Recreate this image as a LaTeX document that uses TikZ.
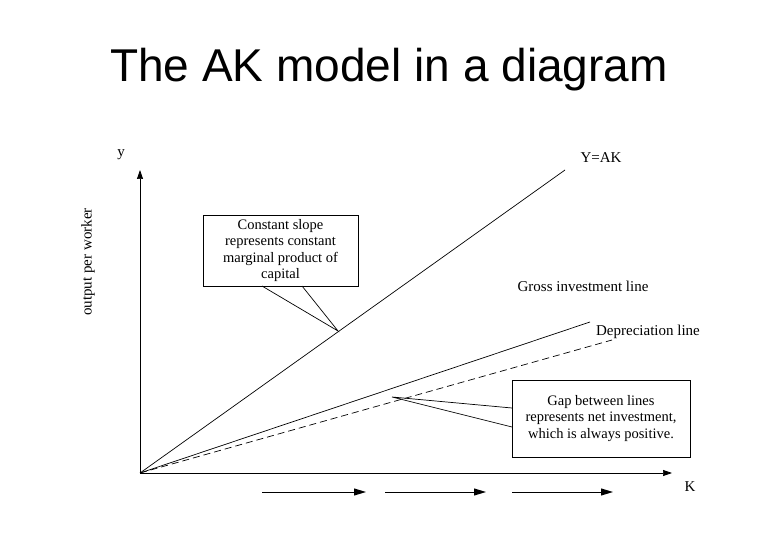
\documentclass[tikz,border=0pt]{standalone}
\usepackage{fontspec}
\setmainfont{Liberation Serif}
\newfontfamily\titlefont{Liberation Sans}
\usetikzlibrary{arrows.meta}
\begin{document}
\begin{tikzpicture}[x=1pt,y=-1pt,
  lbl/.style={font=\fontsize{15}{16}\selectfont, inner sep=0pt},
  callout/.style={draw, line width=0.6pt, align=center, font=\fontsize{14.5}{16.5}\selectfont, inner sep=2pt},
  ln/.style={line width=0.7pt},
  arr/.style={line width=1pt,-{Triangle[length=12pt,width=7pt]}}]
\useasboundingbox (0,0) rectangle (780,540);
\node[font=\titlefont\fontsize{46}{50}\selectfont] (title) at (389,70) {The AK model in a diagram};
\coordinate (O) at (140,473);
\coordinate (ytop) at (140,170);
\coordinate (xend) at (672,473);
\draw[ln,-{Triangle[length=9pt,width=6pt]}] (O) -- (ytop);
\draw[ln,-{Triangle[length=9pt,width=6pt]}] (O) -- (xend);
\node[lbl] (ylab) at (121,155) {y};
\node[lbl] (klab) at (690,487) {K};
\node[lbl,rotate=90] (opw) at (88,262) {output per worker};
\coordinate (ak) at (565,170);
\coordinate (gi) at (590,322);
\coordinate (dp) at (612,340);
\draw[ln] (O) -- (ak);
\draw[ln] (O) -- (gi);
\draw[ln,dashed,dash pattern=on 7pt off 4pt] (O) -- (dp);
\node[lbl] (aklab) at (601,158) {Y=AK};
\node[lbl] (gilab) at (583,286) {Gross investment line};
\node[lbl] (dplab) at (648,332) {Depreciation line};
\node[callout,minimum width=155pt,minimum height=71pt] (b1) at (280.5,250.5) {Constant slope\\represents constant\\marginal product of\\capital};
\coordinate (p1) at (338,331);
\draw[ln] (262,286) -- (p1) -- (302,286);
\node[callout,minimum width=178pt,minimum height=77pt] (b2) at (601,418.5) {Gap between lines\\represents net investment,\\which is always positive.};
\coordinate (p2) at (392,397);
\draw[ln] (512,408) -- (p2) -- (512,427);
\coordinate (a1s) at (262,492); \coordinate (a1e) at (366,492);
\coordinate (a2s) at (385,492); \coordinate (a2e) at (486,492);
\coordinate (a3s) at (512,492); \coordinate (a3e) at (613,492);
\draw[arr] (a1s) -- (a1e);
\draw[arr] (a2s) -- (a2e);
\draw[arr] (a3s) -- (a3e);
\end{tikzpicture}
\end{document}
